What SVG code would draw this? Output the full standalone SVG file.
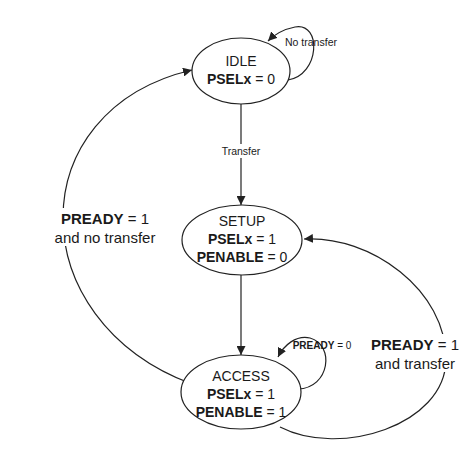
<svg xmlns="http://www.w3.org/2000/svg" width="474" height="467" viewBox="0 0 474 467">
<style>
.st{fill:#fff;stroke:#222;stroke-width:1.2}
.ln{fill:none;stroke:#222;stroke-width:1.2}
.t{font-family:"Liberation Sans",Arial,sans-serif;fill:#1a1a1a;text-anchor:middle}
.n{font-size:14px}
.l{font-size:15px}
.b{font-weight:bold}
.s{font-size:10.5px}
.xs{font-size:10px}
</style>
<defs>
<marker id="ah" viewBox="0 0 10 10" refX="10" refY="5" markerWidth="9" markerHeight="9" markerUnits="userSpaceOnUse" orient="auto">
<path d="M0,0 L10,5 L0,10 z" fill="#222"/>
</marker>
</defs>
<rect width="474" height="467" fill="#fff"/>
<g id="connectors">
<path class="ln" d="M241,104 V205" marker-end="url(#ah)"/>
<rect x="218" y="144" width="46" height="14" fill="#fff"/>
<text class="t s" x="241" y="155">Transfer</text>
<path class="ln" d="M288,80 C320,75 322,22 295,27 C285,29 275,34 268,41" marker-end="url(#ah)"/>
<text class="t s" x="311" y="46">No transfer</text>
<path class="ln" d="M241,275 V355" marker-end="url(#ah)"/>
<path class="ln" d="M298,389 C330,388 335,345 310,338 C296,335 284,345 278,357" marker-end="url(#ah)"/>
<text class="t xs" x="322" y="349"><tspan class="b">PREADY</tspan> = 0</text>
<path class="ln" d="M192,384 C20,320 20,110 192,70" marker-end="url(#ah)"/>
<rect x="52" y="208" width="108" height="38" fill="#fff"/>
<text class="t l" x="105" y="224"><tspan class="b">PREADY</tspan> = 1</text>
<text class="t l" x="105" y="243">and no transfer</text>
<path class="ln" d="M280,427 C340,458 445,425 446,360 C447,290 370,235 304,239" marker-end="url(#ah)"/>
<rect x="370" y="334" width="92" height="38" fill="#fff"/>
<text class="t l" x="415" y="350"><tspan class="b">PREADY</tspan> = 1</text>
<text class="t l" x="415" y="369">and transfer</text>
</g>
<g id="idle">
<ellipse class="st" cx="241" cy="71" rx="49" ry="33"/>
<text class="t n" x="241" y="66">IDLE</text>
<text class="t n" x="241" y="84"><tspan class="b">PSELx</tspan> = 0</text>
</g>
<g id="setup">
<ellipse class="st" cx="242" cy="240" rx="60" ry="35"/>
<text class="t n" x="242" y="226">SETUP</text>
<text class="t n" x="242" y="244"><tspan class="b">PSELx</tspan> = 1</text>
<text class="t n" x="242" y="262"><tspan class="b">PENABLE</tspan> = 0</text>
</g>
<g id="access">
<ellipse class="st" cx="241" cy="392" rx="60" ry="37"/>
<text class="t n" x="241" y="381">ACCESS</text>
<text class="t n" x="241" y="399"><tspan class="b">PSELx</tspan> = 1</text>
<text class="t n" x="241" y="417"><tspan class="b">PENABLE</tspan> = 1</text>
</g>
</svg>
